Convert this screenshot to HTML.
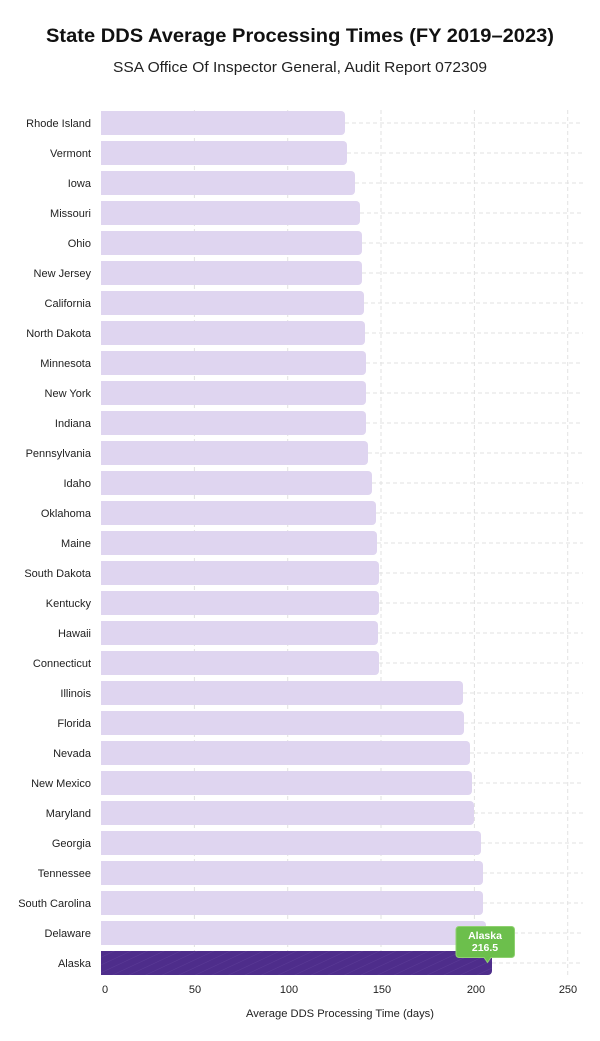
<!DOCTYPE html>
<html>
<head>
<meta charset="utf-8">
<style>
html,body{margin:0;padding:0;background:#fff;}
svg{display:block;}
text{font-family:"Liberation Sans",Arial,sans-serif;}
</style>
</head>
<body>
<svg width="600" height="1041" viewBox="0 0 600 1041" xmlns="http://www.w3.org/2000/svg">
<defs>
<pattern id="hatch" width="7" height="7" patternUnits="userSpaceOnUse" patternTransform="rotate(65)">
<rect width="7" height="7" fill="#4e2d8b"/>
<line x1="0" y1="0" x2="0" y2="7" stroke="#6a4ba3" stroke-width="1" opacity="0.5"/>
</pattern>
</defs>
<rect width="600" height="1041" fill="#fff"/>
<text x="300" y="42" text-anchor="middle" font-size="19" font-weight="bold" fill="#111" textLength="508" lengthAdjust="spacingAndGlyphs">State DDS Average Processing Times (FY 2019–2023)</text>
<text x="300" y="72" text-anchor="middle" font-size="15" fill="#222" textLength="374" lengthAdjust="spacingAndGlyphs">SSA Office Of Inspector General, Audit Report 072309</text>

<g id="grid" stroke="#e2e2e2" stroke-width="1" stroke-dasharray="4 3" fill="none">
<line x1="194.4" y1="110" x2="194.4" y2="976"/>
<line x1="287.7" y1="110" x2="287.7" y2="976"/>
<line x1="381" y1="110" x2="381" y2="976"/>
<line x1="474.4" y1="110" x2="474.4" y2="976"/>
<line x1="567.7" y1="110" x2="567.7" y2="976"/>
</g>
<g id="hgrid" stroke="#e2e2e2" stroke-width="1" stroke-dasharray="4 3"></g>
<g id="bars"></g>
<g id="labels" font-size="11" fill="#222" text-anchor="end"></g>

<g font-size="11" fill="#222" text-anchor="middle">
<text x="105" y="993">0</text>
<text x="195" y="993">50</text>
<text x="289" y="993">100</text>
<text x="382" y="993">150</text>
<text x="476" y="993">200</text>
<text x="568" y="993">250</text>
<text x="340" y="1017" textLength="188" lengthAdjust="spacingAndGlyphs">Average DDS Processing Time (days)</text>
</g>

<g>
<path d="M459,926.5 H511.5 a3,3 0 0 1 3,3 V954.5 a3,3 0 0 1 -3,3 H491 L487.5,962.5 L484,957.5 H459 a3,3 0 0 1 -3,-3 V929.5 a3,3 0 0 1 3,-3 Z" fill="#6cbf4c" stroke="#8fd170" stroke-width="1"/>
<text x="485" y="939" text-anchor="middle" font-size="10.5" font-weight="bold" fill="#fff">Alaska</text>
<text x="485" y="951" text-anchor="middle" font-size="10.5" font-weight="bold" fill="#fff">216.5</text>
</g>
</svg>
<script>
(function(){
var names=["Rhode Island","Vermont","Iowa","Missouri","Ohio","New Jersey","California","North Dakota","Minnesota","New York","Indiana","Pennsylvania","Idaho","Oklahoma","Maine","South Dakota","Kentucky","Hawaii","Connecticut","Illinois","Florida","Nevada","New Mexico","Maryland","Georgia","Tennessee","South Carolina","Delaware","Alaska"];
var ends=[345,347,355,360,362,362,364,365,366,366,366,368,372,376,377,379,379,378,379,463,464,470,472,474,481,483,483,486,492];
var NS="http://www.w3.org/2000/svg";
var hg=document.getElementById("hgrid"),bars=document.getElementById("bars"),lab=document.getElementById("labels");
for(var i=0;i<names.length;i++){
 var top=111+30*i, cy=123+30*i, x0=101, x1=ends[i];
 var l=document.createElementNS(NS,"line");
 l.setAttribute("x1",x1);l.setAttribute("x2",583);l.setAttribute("y1",cy);l.setAttribute("y2",cy);
 hg.appendChild(l);
 var p=document.createElementNS(NS,"path");
 var r=4;
 p.setAttribute("d","M"+x0+","+top+" H"+(x1-r)+" a"+r+","+r+" 0 0 1 "+r+","+r+" V"+(top+24-r)+" a"+r+","+r+" 0 0 1 -"+r+","+r+" H"+x0+" Z");
 p.setAttribute("fill",i==names.length-1?"url(#hatch)":"#dfd5f0");
 bars.appendChild(p);
 var t=document.createElementNS(NS,"text");
 t.setAttribute("x",91);t.setAttribute("y",cy+4);t.textContent=names[i];
 lab.appendChild(t);
}
})();
</script>
</body>
</html>
